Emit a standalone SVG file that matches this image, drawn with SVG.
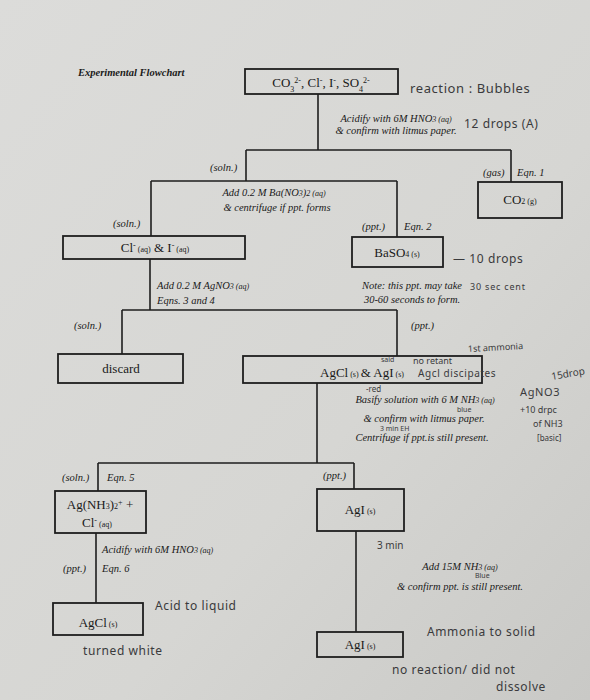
<svg xmlns="http://www.w3.org/2000/svg" width="590" height="700" viewBox="0 0 590 700">
<defs>
<linearGradient id="paper" x1="0" y1="0" x2="1" y2="1">
<stop offset="0" stop-color="#dcdcda"/>
<stop offset="0.6" stop-color="#d6d6d3"/>
<stop offset="1" stop-color="#c9c9c6"/>
</linearGradient>
<style>
.box{fill:none;stroke:#1e1e1e;stroke-width:1.8}
.ln{stroke:#1e1e1e;stroke-width:1.6;fill:none}
.bt{font-family:"Liberation Serif","Times New Roman",serif;font-size:13px;fill:#1a1a1a;text-anchor:middle}
.it{font-family:"Liberation Serif","Times New Roman",serif;font-size:10.5px;font-style:italic;fill:#1a1a1a}
.s{font-size:8px}
.hw{font-family:"Noto Sans","DejaVu Sans",sans-serif;font-size:12px;fill:#3a3a3c;letter-spacing:0.6px}
.hs{font-family:"Noto Sans","DejaVu Sans",sans-serif;font-size:9px;fill:#3a3a3c}
</style>
</defs>
<rect x="0" y="0" width="590" height="700" fill="url(#paper)"/>
<text x="78" y="76" class="it" style="font-weight:bold">Experimental Flowchart</text>

<g id="connectors">
<path class="ln" d="M318,94 V150 M246,150 H511 M246,150 V181 M511,150 V182 M151,181 H397 M151,181 V236 M397,181 V237 M150,259 V310 M122,310 H397 M122,310 V354 M397,310 V356 M317,383 V463 M98,463 H354 M98,463 V491 M354,463 V489 M96,533 V603 M356,531 V632"/>
</g>

<g id="start">
<rect class="box" x="245" y="69" width="153" height="25"/>
<text class="bt" x="321" y="87">CO<tspan class="s" baseline-shift="sub">3</tspan><tspan class="s" baseline-shift="super">2-</tspan>, Cl<tspan class="s" baseline-shift="super">-</tspan>, I<tspan class="s" baseline-shift="super">-</tspan>, SO<tspan class="s" baseline-shift="sub">4</tspan><tspan class="s" baseline-shift="super">2-</tspan></text>
</g>
<text class="hw" x="410" y="93" style="font-size:13px">reaction : Bubbles</text>
<text class="it" x="396" y="122" text-anchor="middle">Acidify with 6M HNO<tspan class="s">3 (aq)</tspan></text>
<text class="it" x="396" y="134" text-anchor="middle">&amp; confirm with litmus paper.</text>
<text class="hw" x="464" y="128">12 drops (A)</text>

<text class="it" x="210" y="171">(soln.)</text>
<text class="it" x="483" y="176">(gas)</text>
<text class="it" x="517" y="176">Eqn. 1</text>
<g id="co2">
<rect class="box" x="478" y="182" width="84" height="36"/>
<text class="bt" x="520" y="204">CO<tspan class="s">2 (g)</tspan></text>
</g>
<text class="it" x="274" y="196" text-anchor="middle">Add 0.2 M Ba(NO<tspan class="s">3</tspan>)<tspan class="s">2 (aq)</tspan></text>
<text class="it" x="277" y="211" text-anchor="middle">&amp; centrifuge if ppt. forms</text>

<text class="it" x="113" y="227">(soln.)</text>
<text class="it" x="362" y="230">(ppt.)</text>
<text class="it" x="404" y="230">Eqn. 2</text>
<g id="cl-i">
<rect class="box" x="63" y="236" width="182" height="23"/>
<text class="bt" x="155" y="252">Cl<tspan class="s" baseline-shift="super">-</tspan><tspan class="s"> (aq)</tspan> &amp; I<tspan class="s" baseline-shift="super">-</tspan><tspan class="s"> (aq)</tspan></text>
</g>
<g id="baso4">
<rect class="box" x="352" y="237" width="91" height="30"/>
<text class="bt" x="397" y="257">BaSO<tspan class="s">4 (s)</tspan></text>
</g>
<text class="hw" x="453" y="263">— 10 drops</text>

<text class="it" x="157" y="289">Add 0.2 M AgNO<tspan class="s">3 (aq)</tspan></text>
<text class="it" x="157" y="304">Eqns. 3 and 4</text>
<text class="it" x="412" y="289" text-anchor="middle">Note: this ppt. may take</text>
<text class="it" x="412" y="303" text-anchor="middle">30-60 seconds to form.</text>
<text class="hs" x="470" y="290" style="letter-spacing:0.8px">30 sec cent</text>

<text class="it" x="74" y="329">(soln.)</text>
<text class="it" x="411" y="329">(ppt.)</text>
<text class="hs" x="468" y="352" transform="rotate(-3 468 352)">1st ammonia</text>

<g id="discard">
<rect class="box" x="58" y="354" width="125" height="29"/>
<text class="bt" x="121" y="373">discard</text>
</g>
<g id="agcl-agi">
<rect class="box" x="243" y="356" width="239" height="27"/>
<text class="bt" x="362" y="377">AgCl<tspan class="s"> (s) </tspan>&amp; AgI<tspan class="s"> (s)</tspan></text>
</g>
<text class="hs" x="381" y="362" style="font-size:7px">said</text>
<text class="hs" x="413" y="364">no retant</text>
<text class="hs" x="418" y="377" style="font-size:10px;letter-spacing:0.6px">Agcl discipates</text>
<text class="hs" x="552" y="380" transform="rotate(-10 552 380)" style="font-size:10px">15drop</text>
<text class="hw" x="520" y="396" style="font-size:11px">AgNO3</text>
<text class="hs" x="520" y="413">+10 drpc</text>
<text class="hs" x="533" y="427">of NH3</text>
<text class="hs" x="537" y="441" style="font-size:8px">[basic]</text>

<text class="hs" x="366" y="392" style="font-size:8px">-red</text>
<text class="it" x="425" y="403" text-anchor="middle">Basify solution with 6 M NH<tspan class="s">3 (aq)</tspan></text>
<text class="hs" x="457" y="412" style="font-size:7px">blue</text>
<text class="it" x="424" y="422" text-anchor="middle">&amp; confirm with litmus paper.</text>
<text class="hs" x="380" y="431" style="font-size:7px">3 min EH</text>
<text class="it" x="422" y="441" text-anchor="middle">Centrifuge if ppt.is still present.</text>

<text class="it" x="62" y="481">(soln.)</text>
<text class="it" x="107" y="481">Eqn. 5</text>
<text class="it" x="323" y="479">(ppt.)</text>
<g id="agnh3">
<rect class="box" x="55" y="491" width="91" height="42"/>
<text class="bt" x="100" y="509">Ag(NH<tspan class="s">3</tspan>)<tspan class="s">2</tspan><tspan class="s" baseline-shift="super">+</tspan> +</text>
<text class="bt" x="97" y="527">Cl<tspan class="s" baseline-shift="super">-</tspan><tspan class="s"> (aq)</tspan></text>
</g>
<g id="agi1">
<rect class="box" x="317" y="489" width="87" height="42"/>
<text class="bt" x="360" y="514">AgI<tspan class="s"> (s)</tspan></text>
</g>

<text class="it" x="102" y="553">Acidify with 6M HNO<tspan class="s">3 (aq)</tspan></text>
<text class="it" x="63" y="572">(ppt.)</text>
<text class="it" x="102" y="572">Eqn. 6</text>
<text class="hs" x="377" y="549" style="font-size:10px">3 min</text>
<text class="it" x="460" y="570" text-anchor="middle">Add 15M NH<tspan class="s">3 (aq)</tspan></text>
<text class="hs" x="475" y="578" style="font-size:7px">Blue</text>
<text class="it" x="460" y="590" text-anchor="middle">&amp; confirm ppt. is still present.</text>

<g id="agcl">
<rect class="box" x="53" y="603" width="90" height="32"/>
<text class="bt" x="98" y="627">AgCl<tspan class="s"> (s)</tspan></text>
</g>
<text class="hw" x="155" y="610">Acid to liquid</text>
<text class="hw" x="83" y="655">turned white</text>

<g id="agi2">
<rect class="box" x="317" y="632" width="86" height="25"/>
<text class="bt" x="360" y="649">AgI<tspan class="s"> (s)</tspan></text>
</g>
<text class="hw" x="427" y="636">Ammonia to solid</text>
<text class="hw" x="392" y="674">no reaction/ did not</text>
<text class="hw" x="496" y="691">dissolve</text>
</svg>
